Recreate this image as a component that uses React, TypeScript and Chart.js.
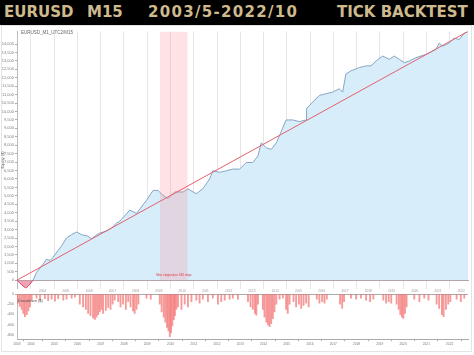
import React, { useEffect, useRef } from "react";
import { Chart, registerables } from "chart.js";

Chart.register(...registerables);
Chart.defaults.font.family = "'Liberation Sans', Arial, sans-serif";

const titleParts = ["EURUSD", "M15", "2003/5-2022/10", "TICK BACKTEST"];
const subtitle = "EURUSD_M1_UTC2/M15";
const equityAxisTitle = "Equity ($)";
const drawdownTitle = "Drawdown ($)";
const stagnationLabel = "Max stagnation 436 days";

const startYear = 2003.4;
const endYear = 2022.79;
const yearTicks = [2004, 2005, 2006, 2007, 2008, 2009, 2010, 2011, 2012, 2013, 2014, 2015, 2016, 2017, 2018, 2019, 2020, 2021, 2022];
const midYearTicks = [2004.5, 2005.5, 2006.5, 2007.5, 2008.5, 2009.5, 2010.5, 2011.5, 2012.5, 2013.5, 2014.5, 2015.5, 2016.5, 2017.5, 2018.5, 2019.5, 2020.5, 2021.5, 2022.5];
const equityTicks = [0, 500, 1000, 1500, 2000, 2500, 3000, 3500, 4000, 4500, 5000, 5500, 6000, 6500, 7000, 7500, 8000, 8500, 9000, 9500, 10000, 10500, 11000, 11500, 12000, 12500, 13000, 13500, 14000];
const equityMin = -500;
const equityMax = 14750;
const drawdownTicks = [0, -200, -400, -600, -800];
const drawdownMin = -880;

const equityX = [2003.4, 2003.61, 2003.79, 2003.96, 2004.09, 2004.24, 2004.52, 2004.67, 2004.82, 2004.94, 2005.16, 2005.32, 2005.53, 2005.75, 2005.96, 2006.18, 2006.42, 2006.61, 2006.82, 2006.96, 2007.25, 2007.46, 2007.68, 2007.82, 2008.25, 2008.54, 2008.97, 2009.25, 2009.46, 2009.68, 2009.89, 2010.18, 2010.54, 2010.75, 2010.97, 2011.11, 2011.39, 2011.68, 2011.82, 2012.11, 2012.4, 2012.68, 2012.97, 2013.26, 2013.54, 2013.76, 2013.9, 2014.12, 2014.33, 2014.55, 2014.76, 2014.97, 2015.26, 2015.54, 2015.83, 2015.85, 2016.12, 2016.4, 2016.69, 2016.97, 2017.26, 2017.4, 2017.54, 2017.76, 2018.12, 2018.41, 2018.62, 2018.84, 2019.12, 2019.41, 2019.62, 2019.84, 2020.05, 2020.27, 2020.55, 2020.98, 2021.41, 2021.55, 2021.7, 2021.98, 2022.2, 2022.41, 2022.63, 2022.79];
const equityY = [0, -291, -480, -233, 0, 466, 950, 1241, 1166, 1340, 1748, 2040, 2506, 2698, 2856, 2698, 2623, 2465, 2681, 2797, 2914, 3089, 3380, 3497, 4155, 3963, 4738, 5321, 5321, 5030, 4837, 5228, 5228, 5420, 5228, 5129, 5420, 6003, 6487, 6393, 6487, 6586, 6586, 6976, 6976, 7361, 8142, 7850, 7751, 8142, 8818, 9500, 9500, 9401, 9500, 10181, 10566, 10957, 11056, 11149, 11347, 11149, 12221, 12414, 12606, 12705, 12705, 12996, 13288, 13096, 13288, 13096, 12898, 12996, 13189, 13387, 13678, 14063, 13871, 14063, 14354, 14261, 14646, 14744];

const trendX = [2003.4, 2022.79];
const trendY = [0, 14750];
const stagnationX = [2009.55, 2010.74];

const ddX = [2003.44, 2003.52, 2003.6, 2003.67, 2003.74, 2003.82, 2003.89, 2003.96, 2004.03,
  2004.24, 2004.39, 2004.6, 2004.74, 2004.89, 2005.03, 2005.17, 2005.39, 2005.53, 2005.75, 2005.89,
  2006.1, 2006.24, 2006.36, 2006.46, 2006.56, 2006.67, 2006.75, 2006.82, 2006.89, 2006.96, 2007.03, 2007.1, 2007.22, 2007.32, 2007.42, 2007.51, 2007.6,
  2007.75, 2007.85, 2007.96, 2008.08, 2008.18, 2008.28, 2008.39, 2008.46, 2008.54, 2008.62,
  2008.97, 2009.15,
  2009.54, 2009.62, 2009.71, 2009.78, 2009.85, 2009.91, 2009.97, 2010.02, 2010.08, 2010.14, 2010.19, 2010.25,
  2010.32, 2010.47, 2010.61, 2010.75, 2010.9, 2011.11, 2011.25,
  2011.39, 2011.61, 2011.82, 2012.04, 2012.18, 2012.33, 2012.54, 2012.68, 2012.9,
  2013.33, 2013.44, 2013.54, 2013.63, 2013.69, 2013.76,
  2013.97, 2014.04, 2014.12, 2014.19, 2014.26, 2014.33, 2014.4, 2014.47, 2014.55, 2014.69, 2014.83,
  2014.97, 2015.04, 2015.12,
  2015.29, 2015.4, 2015.52, 2015.62, 2015.72, 2015.83, 2015.94,
  2016.29, 2016.4, 2016.52, 2016.62, 2016.72,
  2017.29, 2017.38, 2017.46,
  2017.76, 2017.98, 2018.19, 2018.41, 2018.58, 2018.72,
  2019.15, 2019.27, 2019.38, 2019.49,
  2019.72, 2019.81, 2019.88, 2019.95, 2020.01, 2020.08, 2020.15,
  2020.48, 2020.7, 2020.91, 2021.09,
  2021.44, 2021.55, 2021.67, 2021.74, 2021.84, 2021.94, 2022.03,
  2022.3, 2022.48, 2022.63];
const ddY = [-180, -240, -300, -380, -440, -400, -330, -250, -120,
  -80, -120, -90, -130, -100, -140, -90, -120, -100, -80, -60,
  -200, -250, -300, -380, -420, -470, -494, -450, -400, -350, -300, -380, -320, -260, -300, -200, -120,
  -150, -250, -200, -300, -150, -250, -330, -377, -300, -200,
  -80, -100,
  -200, -350, -450, -550, -650, -720, -830, -760, -620, -500, -420, -300,
  -250, -300, -200, -250, -150, -120, -180,
  -100, -150, -80, -200, -150, -120, -100, -80, -100,
  -150, -250, -300, -380, -410, -200,
  -300, -450, -550, -600, -636, -580, -480, -350, -200, -100, -80,
  -300, -377, -200,
  -150, -250, -200, -280, -220, -180, -250,
  -100, -180, -150, -180, -100,
  -200, -280, -150,
  -80, -100, -80, -120, -150, -100,
  -120, -180, -150, -180,
  -200, -300, -400, -450, -474, -380, -250,
  -100, -150, -80, -120,
  -200, -280, -400, -440, -300, -200, -150,
  -100, -150, -80];

const stagnationLabelPlugin = {
  id: "stagnationLabel",
  afterDatasetsDraw(chart: any) {
    const { ctx, scales } = chart;
    const x = scales.x;
    const y = scales.y;
    const cx = x.getPixelForValue((stagnationX[0] + stagnationX[1]) / 2);
    const cy = y.getPixelForValue(0) - 3;
    ctx.save();
    ctx.font = "3.2px 'Liberation Sans', Arial, sans-serif";
    ctx.fillStyle = "rgb(225,60,70)";
    ctx.textAlign = "center";
    ctx.textBaseline = "bottom";
    ctx.fillText(stagnationLabel, cx, cy);
    ctx.restore();
  },
};

export default function App() {
  const mainRef = useRef<HTMLCanvasElement | null>(null);
  const ddRef = useRef<HTMLCanvasElement | null>(null);

  useEffect(() => {
    const lineBlue = "rgb(135,165,195)";
    const lineRed = "rgb(215,70,100)";
    const main = new Chart(mainRef.current as HTMLCanvasElement, {
      type: "line",
      data: {
        datasets: [
          {
            label: "trend",
            data: trendX.map((x, i) => ({ x, y: trendY[i] })),
            borderColor: "rgb(228,96,108)",
            borderWidth: 1,
            pointRadius: 0,
            fill: false,
            xAxisID: "x",
            yAxisID: "y",
          },
          {
            label: "stagnation",
            data: stagnationX.map((x) => ({ x, y: equityMax })),
            borderWidth: 0,
            borderColor: "rgba(0,0,0,0)",
            pointRadius: 0,
            fill: "origin",
            backgroundColor: "rgba(255,140,150,0.25)",
            xAxisID: "x",
            yAxisID: "y",
          },
          {
            label: "equity",
            data: equityX.map((x, i) => ({ x, y: equityY[i] })),
            borderColor: lineBlue,
            borderWidth: 1,
            pointRadius: 0,
            tension: 0,
            fill: { target: "origin", above: "rgb(215,238,250)", below: "rgba(226,90,120,0.55)" },
            segment: {
              borderColor: (c: any) => (c.p0.parsed.y < 0 || c.p1.parsed.y < 0 ? lineRed : lineBlue),
            },
            xAxisID: "x",
            yAxisID: "y",
          },
        ],
      },
      options: {
        animation: false,
        responsive: false,
        maintainAspectRatio: false,
        events: [],
        layout: { padding: { left: 0, right: 6, top: 2, bottom: 0 } },
        plugins: { legend: { display: false }, tooltip: { enabled: false } },
        scales: {
          x: {
            type: "linear",
            min: startYear,
            max: endYear,
            afterBuildTicks: (s: any) => {
              s.ticks = yearTicks.map((v) => ({ value: v }));
            },
            ticks: { display: false },
            grid: { color: "#e6e6e6", drawTicks: false, lineWidth: 1 },
            border: { display: false },
          },
          x2: {
            type: "linear",
            axis: "x",
            position: { y: 0 },
            min: startYear,
            max: endYear,
            afterBuildTicks: (s: any) => {
              s.ticks = midYearTicks.map((v) => ({ value: v }));
            },
            ticks: {
              font: { size: 3.2 },
              color: "#999",
              padding: 1,
              autoSkip: false,
              maxRotation: 0,
              callback: (v: any) => String(Math.floor(Number(v))),
            },
            grid: { display: false },
            border: { display: true, color: "#aaa" },
          },
          y: {
            type: "linear",
            min: equityMin,
            max: equityMax,
            afterBuildTicks: (s: any) => {
              s.ticks = equityTicks.map((v) => ({ value: v }));
            },
            afterFit: (s: any) => {
              s.width = 17;
            },
            ticks: {
              font: { size: 4 },
              color: "#808080",
              padding: 1,
              callback: (v: any) => Number(v).toLocaleString("en-US"),
            },
            grid: { drawOnChartArea: false, tickLength: 2, color: "#aaa" },
            border: { display: true, color: "#bbb" },
            title: { display: true, text: equityAxisTitle, font: { size: 4 }, color: "#666", padding: 0 },
          },
        },
      } as any,
      plugins: [stagnationLabelPlugin],
    });

    const dd = new Chart(ddRef.current as HTMLCanvasElement, {
      type: "bar",
      data: {
        datasets: [
          {
            label: drawdownTitle,
            data: ddX.map((x, i) => ({ x, y: ddY[i] })),
            backgroundColor: "rgba(242,110,110,0.7)",
            borderWidth: 0,
            barThickness: 1.2,
          },
        ],
      },
      options: {
        animation: false,
        responsive: false,
        maintainAspectRatio: false,
        events: [],
        layout: { padding: { left: 0, right: 6, top: 2, bottom: 0 } },
        plugins: { legend: { display: false }, tooltip: { enabled: false } },
        scales: {
          x: {
            type: "linear",
            offset: false,
            min: startYear,
            max: endYear,
            afterBuildTicks: (s: any) => {
              s.ticks = [startYear, ...yearTicks].map((v) => ({ value: v }));
            },
            ticks: {
              font: { size: 3.2 },
              color: "#777",
              padding: 1,
              autoSkip: false,
              maxRotation: 0,
              callback: (v: any) => String(Math.floor(Number(v))),
            },
            grid: { drawOnChartArea: false, tickLength: 2, color: "#aaa" },
            border: { display: true, color: "#aaa" },
          },
          y: {
            type: "linear",
            min: drawdownMin,
            max: 0,
            afterBuildTicks: (s: any) => {
              s.ticks = drawdownTicks.map((v) => ({ value: v }));
            },
            afterFit: (s: any) => {
              s.width = 17;
            },
            ticks: { font: { size: 3.4 }, color: "#777", padding: 1 },
            grid: {
              tickLength: 2,
              color: (c: any) => (c.tick && c.tick.value === 0 ? "#aaa" : "rgba(0,0,0,0)"),
            },
            border: { display: true, color: "#bbb" },
          },
        },
      } as any,
    });

    return () => {
      main.destroy();
      dd.destroy();
    };
  }, []);

  const gold = "rgb(206,186,142)";
  const bannerText: React.CSSProperties = {
    position: "absolute",
    top: 0,
    height: 25,
    lineHeight: "25px",
    fontFamily: "'DejaVu Sans', Verdana, sans-serif",
    fontWeight: "bold",
    fontSize: 15,
    color: gold,
    whiteSpace: "nowrap",
  };

  return (
    <div style={{ position: "absolute", left: 0, top: 0, width: 474, height: 355, background: "#fff", overflow: "hidden" }}>
      <div style={{ position: "absolute", left: 0, top: 0, width: 474, height: 25, background: "#000" }} />
      <div style={{ ...bannerText, left: 4 }}>{titleParts[0]}</div>
      <div style={{ ...bannerText, left: 87 }}>{titleParts[1]}</div>
      <div style={{ ...bannerText, left: 148, letterSpacing: "1.3px" }}>{titleParts[2]}</div>
      <div style={{ ...bannerText, left: 337 }}>{titleParts[3]}</div>
      <div style={{ position: "absolute", left: 1, top: 25, width: 469, height: 325, border: "1px solid #e4e4e4" }} />
      <canvas ref={mainRef} width={474} height={264} style={{ position: "absolute", left: 0, top: 28, width: 474, height: 264 }} />
      <canvas ref={ddRef} width={474} height={56} style={{ position: "absolute", left: 0, top: 291, width: 474, height: 56 }} />
      <div style={{ position: "absolute", left: 21, top: 30, fontFamily: "'Liberation Sans', Arial, sans-serif", fontSize: 4.5, color: "#666", lineHeight: "6px" }}>{subtitle}</div>
      <div style={{ position: "absolute", left: 18, top: 298, fontFamily: "'Liberation Sans', Arial, sans-serif", fontSize: 4, color: "#555", lineHeight: "5px" }}>{drawdownTitle}</div>
    </div>
  );
}
